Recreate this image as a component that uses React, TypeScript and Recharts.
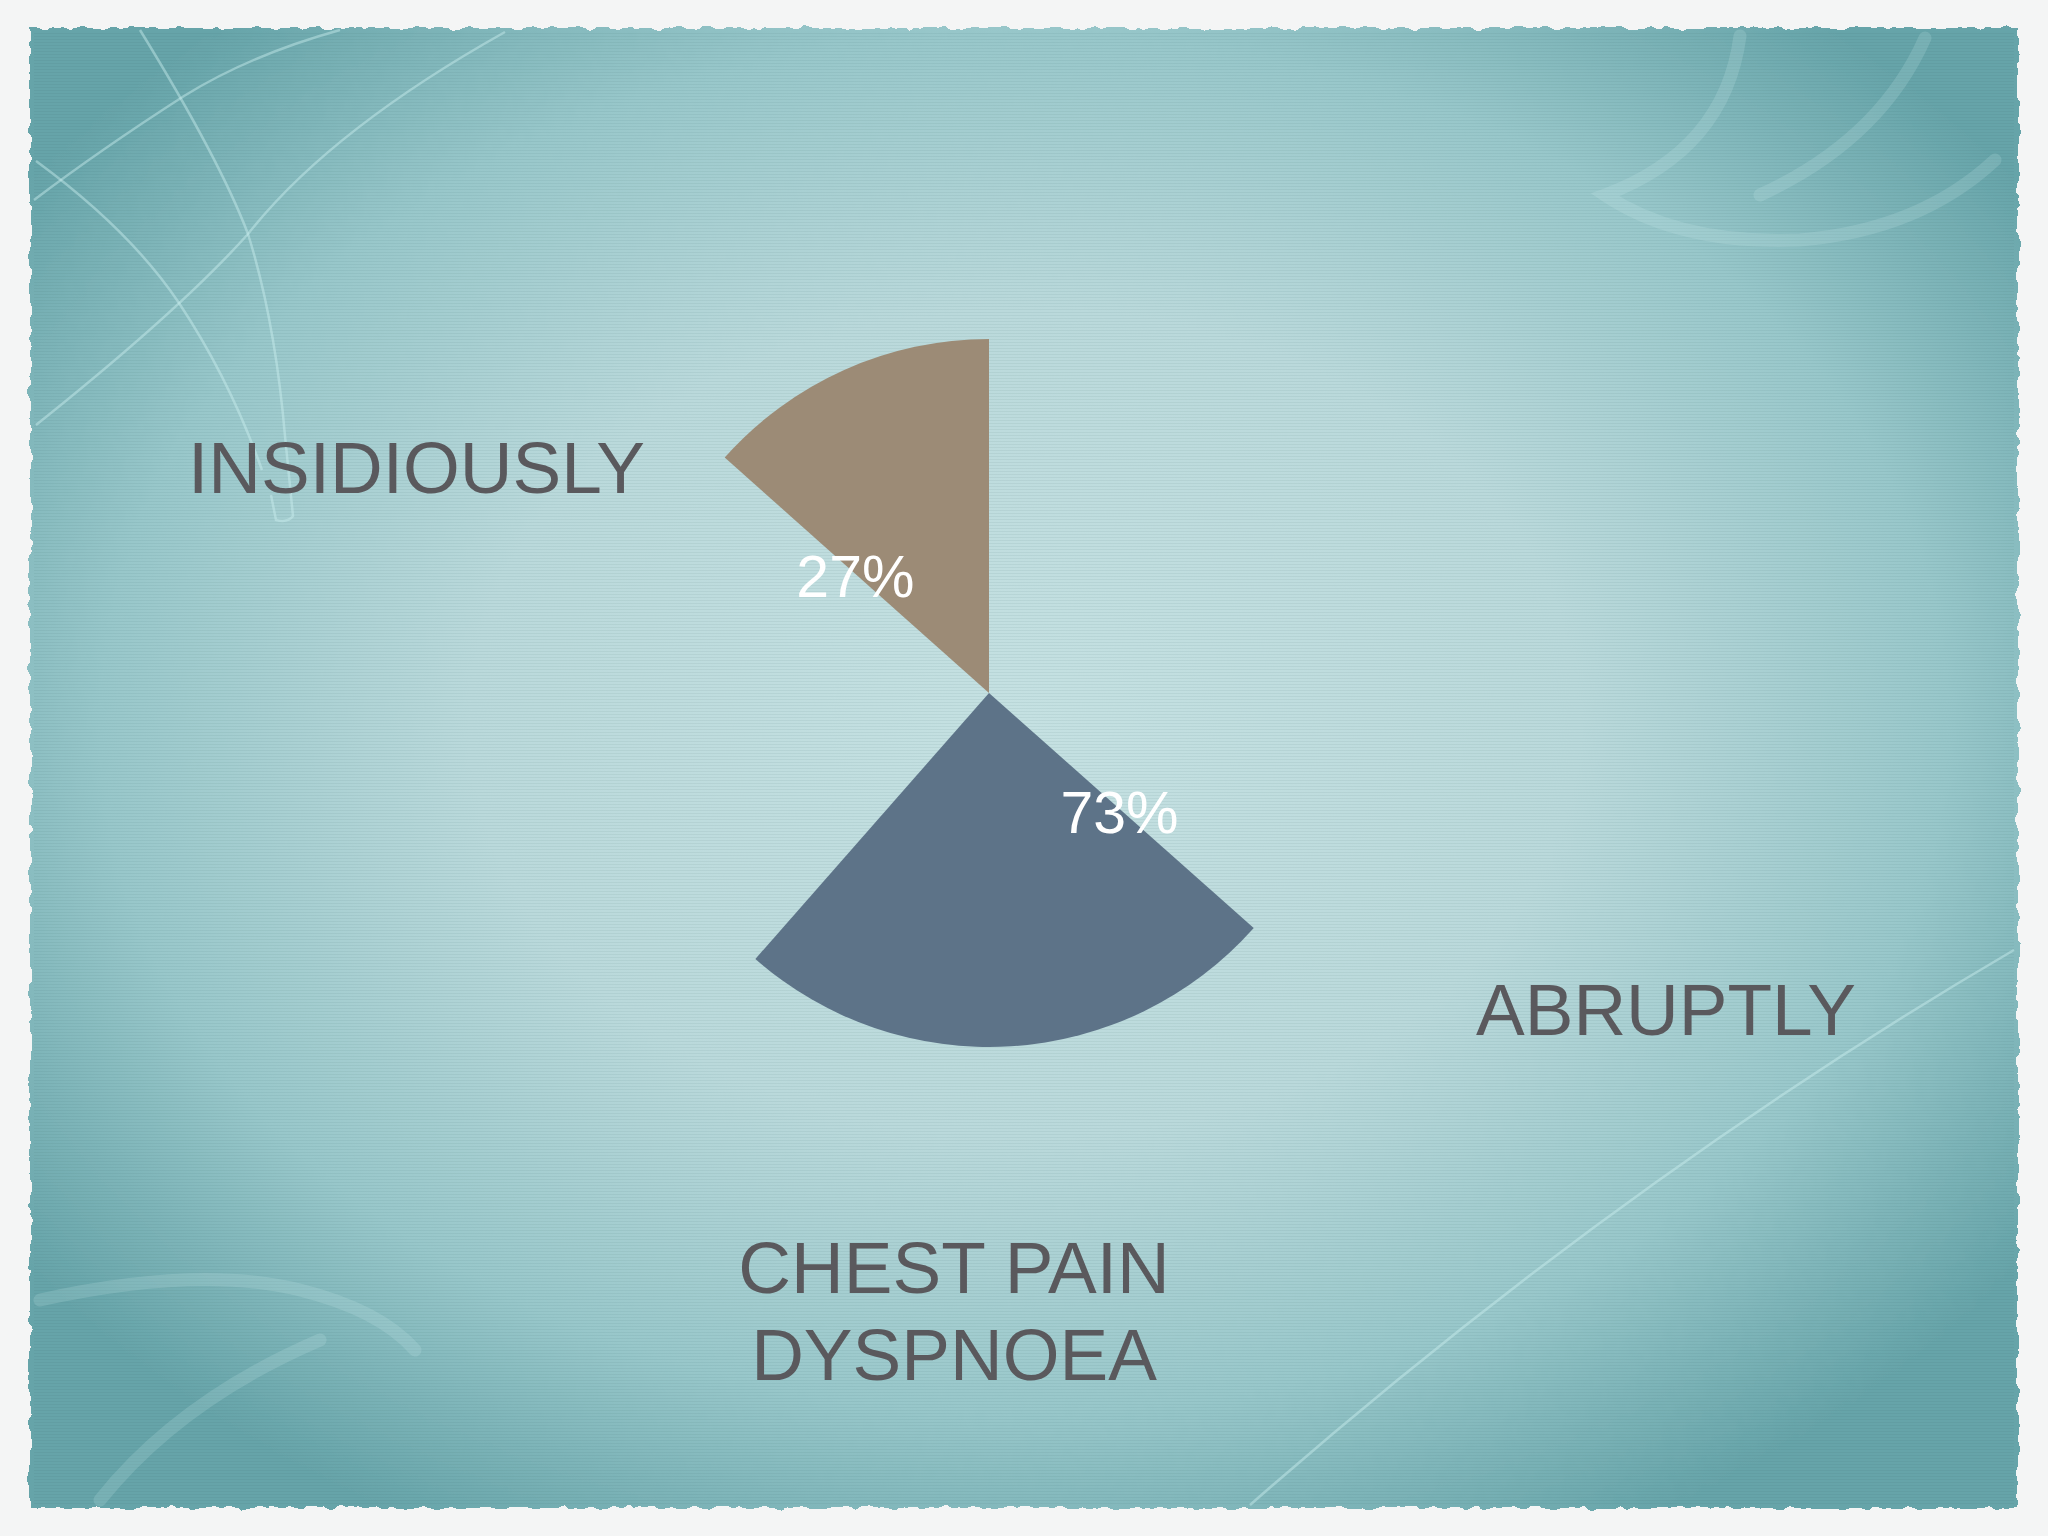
import { PieChart, Pie, Cell } from 'recharts';

// onset of chest pain / dyspnoea
const categories = ['INSIDIOUSLY', 'ABRUPTLY'];
const shares = [27, 73];
const titleLines = ['CHEST PAIN', 'DYSPNOEA'];

const sliceColors = ['#9c8b76', '#5d7388'];
// the slide draws each wedge in its own sweep, not proportional
const sweeps = [
    { start: 90, end: 138.3, labelAngle: 139 },
    { start: -41.6, end: -131.3, labelAngle: -42.5 },
];

const FONT = '"Liberation Sans", Arial, sans-serif';
const TEXT_GRAY = '#5a595d';

const pctLabel = (angle: number) => (props: any) => {
    const { cx, cy, outerRadius, value } = props;
    const r = outerRadius * 0.5;
    const rad = (-angle * Math.PI) / 180;
    return (
        <text
            x={cx + r * Math.cos(rad)}
            y={cy + r * Math.sin(rad)}
            fill="#ffffff"
            textAnchor="middle"
            dominantBaseline="central"
            fontSize={59}
            fontFamily={FONT}
        >
            {value}%
        </text>
    );
};

function Backdrop() {
    return (
        <svg width={2048} height={1536} style={{ position: 'absolute', left: 0, top: 0 }}>
            <defs>
                <radialGradient id="slideBg" cx="50%" cy="47%" r="62%">
                    <stop offset="0%" stopColor="#c5e1e2" />
                    <stop offset="45%" stopColor="#bad9db" />
                    <stop offset="75%" stopColor="#98c7ca" />
                    <stop offset="100%" stopColor="#66a4a9" />
                </radialGradient>
                <pattern id="lines" width="6" height="3" patternUnits="userSpaceOnUse">
                    <rect width="6" height="1" fill="rgba(40,80,90,0.07)" />
                </pattern>
                <filter id="rough" x="-2%" y="-2%" width="104%" height="104%">
                    <feTurbulence type="fractalNoise" baseFrequency="0.08" numOctaves="2" seed="3" />
                    <feDisplacementMap in="SourceGraphic" scale="9" />
                </filter>
            </defs>
            <rect width={2048} height={1536} fill="#f4f5f5" />
            <g filter="url(#rough)">
                <rect x={30} y={28} width={1988} height={1480} fill="url(#slideBg)" />
            </g>
            <rect x={34} y={32} width={1980} height={1472} fill="url(#lines)" />
            {/* thin scribbles, top left */}
            <g fill="none" stroke="rgba(205,240,240,0.45)" strokeWidth={2.5}>
                <path d="M 140 30 Q 220 160 248 234 Q 275 320 285 436 L 293 516 Q 288 523 276 520 L 271 495" />
                <path d="M 340 30 Q 250 55 184 96 Q 100 150 34 200" />
                <path d="M 505 32 Q 330 130 248 234 Q 180 310 36 425" />
                <path d="M 36 161 Q 130 230 179 303 Q 230 380 262 470" />
                <path d="M 2014 950 Q 1620 1180 1250 1505" />
            </g>
            {/* broad faint swirls */}
            <g fill="none" stroke="rgba(215,242,242,0.17)" strokeWidth={13} strokeLinecap="round">
                <path d="M 1740 36 Q 1725 150 1605 195 Q 1680 245 1800 240 Q 1920 230 1995 160" />
                <path d="M 1925 38 Q 1880 140 1760 195" />
                <path d="M 40 1300 Q 200 1265 300 1290 Q 380 1310 415 1350" />
                <path d="M 100 1500 Q 180 1400 320 1340" />
            </g>
        </svg>
    );
}

export default function App() {
    const data = categories.map((name, i) => ({ name, value: shares[i] }));

    return (
        <div style={{ position: 'absolute', left: 0, top: 0, width: 2048, height: 1536, overflow: 'hidden' }}>
            <Backdrop />
            <div style={{ position: 'absolute', left: 0, top: 0 }}>
                <PieChart width={2048} height={1536}>
                    {data.map((d, i) => (
                        <Pie
                            key={d.name}
                            data={[d]}
                            dataKey="value"
                            nameKey="name"
                            cx={984}
                            cy={688}
                            outerRadius={354}
                            startAngle={sweeps[i].start}
                            endAngle={sweeps[i].end}
                            stroke="none"
                            labelLine={false}
                            label={pctLabel(sweeps[i].labelAngle)}
                            isAnimationActive={false}
                        >
                            <Cell fill={sliceColors[i]} />
                        </Pie>
                    ))}
                </PieChart>
            </div>
            <div style={{ position: 'absolute', left: 188, top: 426, fontFamily: FONT, fontSize: 73, color: TEXT_GRAY, lineHeight: '84px' }}>
                {categories[0]}
            </div>
            <div style={{ position: 'absolute', left: 1476, top: 968, fontFamily: FONT, fontSize: 73, color: TEXT_GRAY, lineHeight: '84px' }}>
                {categories[1]}
            </div>
            <div
                style={{
                    position: 'absolute',
                    left: 654,
                    width: 600,
                    top: 1224,
                    textAlign: 'center',
                    fontFamily: FONT,
                    fontSize: 73,
                    color: TEXT_GRAY,
                    lineHeight: '87px',
                }}
            >
                {titleLines.map(t => (
                    <div key={t}>{t}</div>
                ))}
            </div>
        </div>
    );
}
